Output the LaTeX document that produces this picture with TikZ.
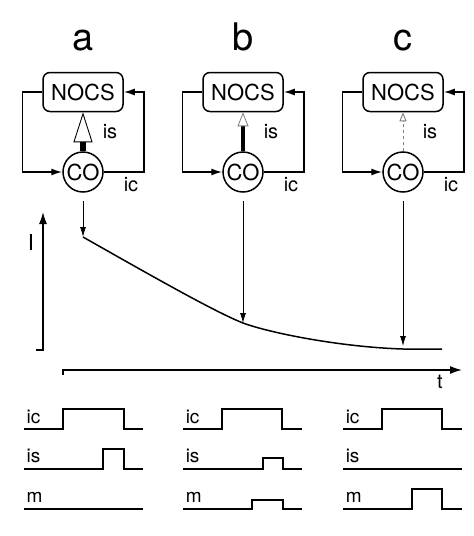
\documentclass[tikz,border=0pt]{standalone}
\usepackage{fontspec}
\setmainfont{TeX Gyre Heros}
\usetikzlibrary{arrows.meta}

\begin{document}
\begin{tikzpicture}[>={Latex[length=11pt,width=7pt]}, x=1pt, y=-1pt, line width=1.5pt,
	every node/.style={inner sep=0pt, font=\fontsize{22}{22}\selectfont},
	nocs/.style={draw, rounded corners=7pt, minimum width=80pt, minimum height=39pt},
	co/.style={circle, draw, minimum size=40pt},
	title/.style={anchor=base, font=\fontsize{38}{38}\selectfont},
	lbl/.style={anchor=base west, font=\fontsize{20}{20}\selectfont},
	sig/.style={anchor=base west, font=\fontsize{19}{19}\selectfont},
	probe/.style={line width=0.8pt, shorten <=8pt, -{Latex[length=10pt,width=6pt]}},
	axis/.style={line width=1.5pt, -{Latex[length=12pt,width=8pt]}}]
	\useasboundingbox (0,0) rectangle (474,536);
	%Panel a
	\node [title] (ta) at (83,50) {a};
	\node [nocs] (nocsA) at (83,92) {NOCS};
	\node [co] (coA) at (83,172) {CO};
	\draw[->] (nocsA.west) -- ++(-20,0) |- (coA.west);
	\draw[->] (coA.east) -- ++(40,0) |- (nocsA.east);
	\draw[line width=6pt, -{Triangle[open, length=30pt, width=19pt, line width=0.9pt]}] (coA) -- (nocsA);
	\node [lbl] (isA) at (102,138) {is};
	\node [lbl] (icA) at (123,191) {ic};
	%Panel b
	\node [title] (tb) at (243,50) {b};
	\node [nocs] (nocsB) at (243,92) {NOCS};
	\node [co] (coB) at (243,172) {CO};
	\draw[->] (nocsB.west) -- ++(-20,0) |- (coB.west);
	\draw[->] (coB.east) -- ++(40,0) |- (nocsB.east);
	\draw[line width=4pt, -{Triangle[open, length=14pt, width=11pt, line width=0.8pt, color=gray]}] (coB) -- (nocsB);
	\node [lbl] (isB) at (263,138) {is};
	\node [lbl] (icB) at (283,191) {ic};
	%Panel c
	\node [title] (tc) at (403,50) {c};
	\node [nocs] (nocsC) at (403,92) {NOCS};
	\node [co] (coC) at (403,172) {CO};
	\draw[->] (nocsC.west) -- ++(-20,0) |- (coC.west);
	\draw[->] (coC.east) -- ++(40,0) |- (nocsC.east);
	\draw[gray, line width=0.9pt, dashed, -{Triangle[open, length=9pt, width=7pt]}] (coC) -- (nocsC);
	\node [lbl] (isC) at (422,138) {is};
	\node [lbl] (icC) at (443,191) {ic};
	%Decay curve
	\coordinate (pA) at (83,237);
	\coordinate (pB) at (243,323);
	\coordinate (pC) at (403,349);
	\coordinate (pEnd) at (442,349);
	\draw (pA) .. controls (150,275) and (215,312) .. (pB)
		.. controls (270,333) and (340,347) .. (pC) -- (pEnd);
	\draw[probe] (coA.south) -- (pA);
	\draw[probe] (coB.south) -- (pB);
	\draw[probe, shorten >=3pt] (coC.south) -- (pC);
	%Axes
	\coordinate (yo) at (43,350);
	\coordinate (xo) at (63,370);
	\draw[axis] (36,350) -- (yo) -- (43,212);
	\draw[axis] (63,375) -- (xo) -- (462,370);
	\node [anchor=base] (ylab) at (31,250) {I};
	\node [anchor=base, font=\fontsize{20}{20}\selectfont] (xlab) at (440,388) {t};
	%Signals a
	\node [sig] (icSa) at (26,423) {ic};
	\node [sig] (isSa) at (26,462) {is};
	\node [sig] (mSa) at (26,502) {m};
	\draw (24,429) -- (63,429) -- (63,409) -- (124,409) -- (124,429) -- (143,429);
	\draw (24,469) -- (103,469) -- (103,449) -- (124,449) -- (124,469) -- (143,469);
	\draw (24,509) -- (143,509);
	%Signals b
	\node [sig] (icSb) at (185,423) {ic};
	\node [sig] (isSb) at (185,462) {is};
	\node [sig] (mSb) at (185,502) {m};
	\draw (183,429) -- (222,429) -- (222,409) -- (282,409) -- (282,429) -- (302,429);
	\draw (183,469) -- (263,469) -- (263,458) -- (283,458) -- (283,469) -- (302,469);
	\draw (183,509) -- (252,509) -- (252,500) -- (283,500) -- (283,509) -- (302,509);
	%Signals c
	\node [sig] (icSc) at (345,423) {ic};
	\node [sig] (isSc) at (345,462) {is};
	\node [sig] (mSc) at (345,502) {m};
	\draw (343,429) -- (382,429) -- (382,409) -- (442,409) -- (442,429) -- (462,429);
	\draw (343,469) -- (462,469);
	\draw (343,509) -- (412,509) -- (412,489) -- (442,489) -- (442,509) -- (462,509);
\end{tikzpicture}
\end{document}
